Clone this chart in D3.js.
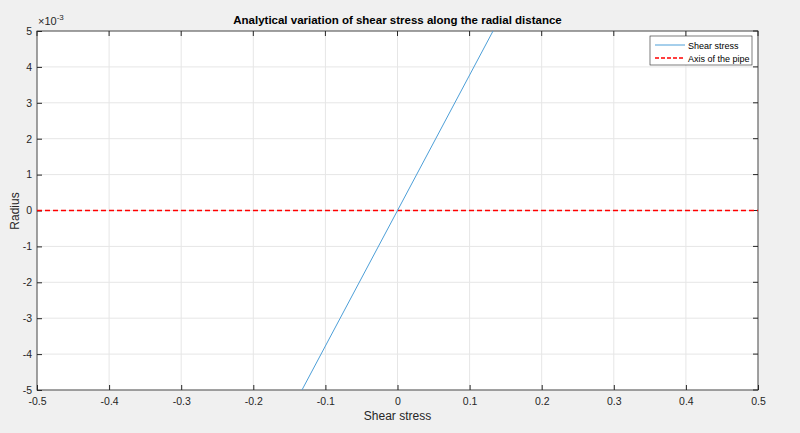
<!DOCTYPE html>
<html><head><meta charset="utf-8">
<script src="https://cdn.jsdelivr.net/npm/d3@7"></script>
<style>body{margin:0;background:#f0f0f0;font-family:Arial,"Liberation Sans",sans-serif}</style>
</head><body><svg id="c" width="800" height="433"></svg>
<script>
const shearX = [-0.1325, 0.1325];
const radiusY = [-0.005, 0.005];
const axisX = [-0.5, 0.5];
const axisY = [0, 0];
const xTicks = [-0.5,-0.4,-0.3,-0.2,-0.1,0,0.1,0.2,0.3,0.4,0.5];
const yTicks = [-5,-4,-3,-2,-1,0,1,2,3,4,5];

const svg = d3.select("#c");
const L=37,R=758,T=31,B=390;
const x = d3.scaleLinear().domain([-0.5,0.5]).range([L,R]);
const y = d3.scaleLinear().domain([-0.005,0.005]).range([B,T]);
svg.append("rect").attr("x",L).attr("y",T).attr("width",R-L).attr("height",B-T).attr("fill","#fff");
const g = svg.append("g");
xTicks.forEach(t=>g.append("line").attr("x1",x(t)).attr("x2",x(t)).attr("y1",T).attr("y2",B).attr("stroke","#e6e6e6"));
yTicks.forEach(t=>g.append("line").attr("y1",y(t/1000)).attr("y2",y(t/1000)).attr("x1",L).attr("x2",R).attr("stroke","#e6e6e6"));
const ax = svg.append("g").attr("transform",`translate(0,${B})`).call(d3.axisBottom(x).tickValues(xTicks).tickSize(-5).tickPadding(8).tickFormat(d=>String(+d.toFixed(1))));
const ay = svg.append("g").attr("transform",`translate(${L},0)`).call(d3.axisLeft(y).tickValues(yTicks.map(t=>t/1000)).tickSize(-5).tickPadding(5).tickFormat(d=>String(Math.round(d*1000))));
[ax,ay].forEach(a=>{a.select(".domain").remove();a.selectAll("text").attr("font-size",10.5).attr("fill","#262626").attr("font-family","Arial,'Liberation Sans'");a.selectAll("line").attr("stroke","#262626");});
svg.append("rect").attr("x",L).attr("y",T).attr("width",R-L).attr("height",B-T).attr("fill","none").attr("stroke","#262626").attr("stroke-width",0.8);
xTicks.forEach(t=>svg.append("line").attr("x1",x(t)).attr("x2",x(t)).attr("y1",T).attr("y2",T+5).attr("stroke","#262626"));
yTicks.forEach(t=>svg.append("line").attr("y1",y(t/1000)).attr("y2",y(t/1000)).attr("x1",R).attr("x2",R-5).attr("stroke","#262626"));
svg.append("clipPath").attr("id","cp").append("rect").attr("x",L).attr("y",T).attr("width",R-L).attr("height",B-T);
const line = d3.line().x(d=>x(d[0])).y(d=>y(d[1]));
svg.append("path").attr("clip-path","url(#cp)").attr("d",line(d3.zip(axisX,axisY))).attr("stroke","#ff0000").attr("stroke-width",1.5).attr("stroke-dasharray","5,3").attr("fill","none");
svg.append("path").attr("clip-path","url(#cp)").attr("d",line(d3.zip(shearX,radiusY))).attr("stroke","#4d9fd8").attr("stroke-width",1).attr("fill","none");
svg.append("text").attr("x",(L+R)/2).attr("y",24).attr("text-anchor","middle").attr("font-weight","bold").attr("font-size",11.5).attr("fill","#000").text("Analytical variation of shear stress along the radial distance");
svg.append("text").attr("x",(L+R)/2).attr("y",420).attr("text-anchor","middle").attr("font-size",12).attr("fill","#262626").text("Shear stress");
svg.append("text").attr("transform","translate(19,211) rotate(-90)").attr("text-anchor","middle").attr("font-size",12).attr("fill","#262626").text("Radius");
const ex=svg.append("text").attr("x",38).attr("y",25).attr("font-size",11).attr("fill","#262626");
ex.append("tspan").text("×10");ex.append("tspan").attr("dy",-5).attr("font-size",8).text("-3");
const lg=svg.append("g");
lg.append("rect").attr("x",650).attr("y",36).attr("width",102).attr("height",29).attr("fill","#fff").attr("stroke","#262626").attr("stroke-width",0.6);
lg.append("line").attr("x1",655).attr("x2",685).attr("y1",45).attr("y2",45).attr("stroke","#4d9fd8");
lg.append("line").attr("x1",655).attr("x2",685).attr("y1",58).attr("y2",58).attr("stroke","#ff0000").attr("stroke-width",1.5).attr("stroke-dasharray","4,2");
lg.append("text").attr("x",688).attr("y",48.5).attr("font-size",9).attr("fill","#000").text("Shear stress");
lg.append("text").attr("x",688).attr("y",61.5).attr("font-size",9).attr("fill","#000").text("Axis of the pipe");
</script></body></html>
